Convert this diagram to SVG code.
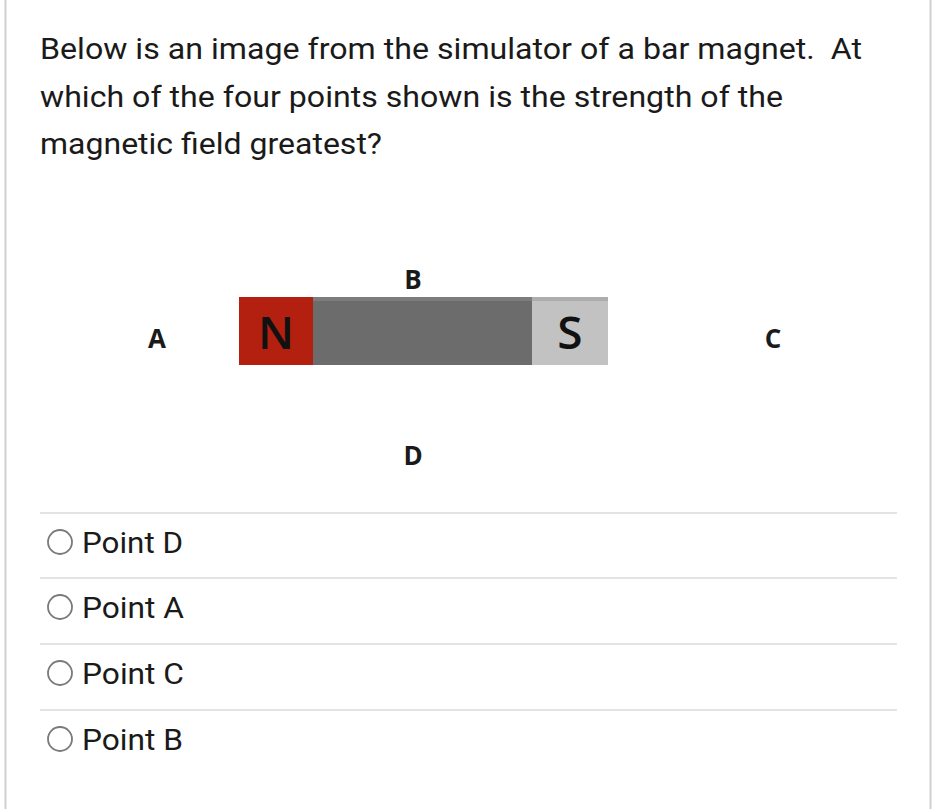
<svg xmlns="http://www.w3.org/2000/svg" width="943" height="809" viewBox="0 0 943 809">
<style>
.q{font-family:Roboto,"Liberation Sans",sans-serif;font-size:30px;fill:#1a1a1a;white-space:pre}
.lbl{font-family:"Open Sans","Liberation Sans",sans-serif;font-weight:bold;font-size:26px;fill:#1a1a1a;text-anchor:middle}
.pole{font-family:"Open Sans","Liberation Sans",sans-serif;font-weight:600;font-size:46px;fill:#111;text-anchor:middle}
.sep{stroke:#e3e3e3;stroke-width:2}
.radio{fill:#fff;stroke:#7a7a7a;stroke-width:1.8}
.opt{font-family:Roboto,"Liberation Sans",sans-serif;font-size:30px;fill:#1a1a1a}
</style>
<rect width="943" height="809" fill="#fff"/>
<line x1="5.5" y1="0" x2="5.5" y2="809" stroke="#cfcfcf" stroke-width="2"/>
<line x1="930.5" y1="0" x2="930.5" y2="809" stroke="#cfcfcf" stroke-width="2"/>
<g id="question">
<text class="q" x="40" y="59" textLength="822" lengthAdjust="spacingAndGlyphs" xml:space="preserve">Below is an image from the simulator of a bar magnet.  At</text>
<text class="q" x="40" y="107" textLength="743" lengthAdjust="spacingAndGlyphs">which of the four points shown is the strength of the</text>
<text class="q" x="40" y="154" textLength="342" lengthAdjust="spacingAndGlyphs">magnetic field greatest?</text>
</g>
<g id="magnet">
<rect x="239" y="297" width="74" height="68" fill="#b3200f"/>
<rect x="313" y="297" width="219" height="68" fill="#6c6c6c"/>
<rect x="313" y="297" width="219" height="4" fill="#7c7c7c"/>
<rect x="532" y="297" width="76" height="68" fill="#c2c2c2"/>
<rect x="532" y="297" width="76" height="4" fill="#adadad"/>
<text class="pole" x="276" y="349">N</text>
<text class="pole" x="570" y="349">S</text>
</g>
<g id="labels">
<text class="lbl" x="157" y="348">A</text>
<text class="lbl" x="413" y="289">B</text>
<text class="lbl" x="773" y="348">C</text>
<text class="lbl" x="413" y="465">D</text>
</g>
<g id="separators">
<line class="sep" x1="40" y1="513" x2="897" y2="513"/>
<line class="sep" x1="40" y1="578" x2="897" y2="578"/>
<line class="sep" x1="40" y1="644" x2="897" y2="644"/>
<line class="sep" x1="40" y1="710" x2="897" y2="710"/>
</g>
<g id="opt-d"><circle class="radio" cx="60" cy="542" r="12"/><text class="opt" x="82" y="553" textLength="101" lengthAdjust="spacingAndGlyphs">Point D</text></g>
<g id="opt-a"><circle class="radio" cx="60" cy="607" r="12"/><text class="opt" x="82" y="618" textLength="102" lengthAdjust="spacingAndGlyphs">Point A</text></g>
<g id="opt-c"><circle class="radio" cx="60" cy="673" r="12"/><text class="opt" x="82" y="684" textLength="102" lengthAdjust="spacingAndGlyphs">Point C</text></g>
<g id="opt-b"><circle class="radio" cx="60" cy="739" r="12"/><text class="opt" x="82" y="750" textLength="101" lengthAdjust="spacingAndGlyphs">Point B</text></g>
</svg>
